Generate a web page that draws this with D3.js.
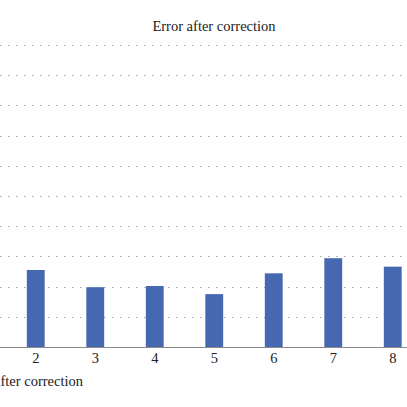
<!DOCTYPE html>
<html>
<head>
<meta charset="utf-8">
<title>Error after correction</title>
<script src="https://d3js.org/d3.v7.min.js"></script>
<style>
    html, body { margin: 0; padding: 0; background: #fff; overflow: hidden; }
    text { font-family: "Liberation Serif", "DejaVu Serif", serif; fill: #222; }
</style>
</head>
<body>
<div id="chart"></div>
<script>
// data (category 1 is cropped out of view)
var categories = ["1", "2", "3", "4", "5", "6", "7", "8"];
var errorValues = [null, 2.55, 1.98, 2.02, 1.75, 2.44, 2.94, 2.66];
var yTicks = [1, 2, 3, 4, 5, 6, 7, 8, 9, 10];
var seriesName = "Error after correction";

var width = 407, height = 407;
var baseY = 347, topY = 45;

var svg = d3.select("#chart").append("svg")
    .attr("width", width)
    .attr("height", height);

// the chart is cropped: the band scale runs past both edges
var xScale = d3.scaleBand()
    .domain(categories)
    .range([-53.5, 422.5])
    .paddingInner(0.7)
    .paddingOuter(0.35);

var yScale = d3.scaleLinear()
    .domain([0, 10])
    .range([baseY, topY]);

// dotted gridlines
svg.append("g")
    .selectAll("line")
    .data(yTicks)
    .enter()
    .append("line")
    .attr("x1", 0)
    .attr("x2", width)
    .attr("y1", function(d) { return Math.round(yScale(d)) + 0.5; })
    .attr("y2", function(d) { return Math.round(yScale(d)) + 0.5; })
    .attr("stroke", "#a8a8a8")
    .attr("stroke-width", 1)
    .attr("stroke-dasharray", "1.5,6.5");

// bars
var barData = categories.map(function(c, i) { return { cat: c, v: errorValues[i] }; })
    .filter(function(d) { return d.v != null; });

svg.selectAll(".bar")
    .data(barData)
    .enter()
    .append("rect")
    .attr("class", "bar")
    .attr("x", function(d) { return xScale(d.cat); })
    .attr("width", xScale.bandwidth())
    .attr("y", function(d) { return yScale(d.v); })
    .attr("height", function(d) { return baseY - yScale(d.v); })
    .attr("fill", "#4668b0");

// x-axis, only the labels that are in view
var shownCats = categories.filter(function(c) { return xScale(c) >= 0; });
var xAxis = svg.append("g")
    .attr("transform", "translate(0," + baseY + ")")
    .call(d3.axisBottom(xScale).tickValues(shownCats).tickSize(0).tickPadding(6));
xAxis.select(".domain").remove();
xAxis.selectAll("text")
    .style("font-family", "'Liberation Serif', serif")
    .style("font-size", "14.5px")
    .attr("fill", "#222");

svg.append("line")
    .attr("x1", 0)
    .attr("x2", width)
    .attr("y1", baseY + 0.5)
    .attr("y2", baseY + 0.5)
    .attr("stroke", "#8c8c8c")
    .attr("stroke-width", 1.2);

// title
svg.append("text")
    .attr("x", 214)
    .attr("y", 31)
    .attr("text-anchor", "middle")
    .style("font-size", "14.5px")
    .text(seriesName);

// legend (cut off at the left edge, as in the source)
svg.append("text")
    .attr("x", 83)
    .attr("y", 386)
    .attr("text-anchor", "end")
    .style("font-size", "14.5px")
    .text(seriesName);
</script>
</body>
</html>
